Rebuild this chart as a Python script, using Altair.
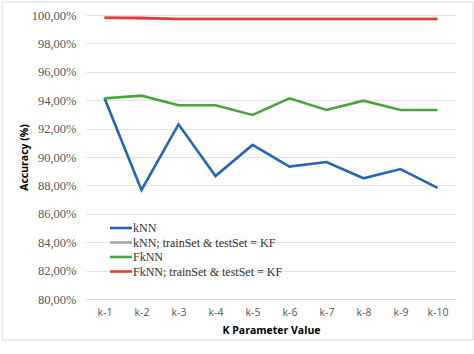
import altair as alt
import pandas as pd

categories = ["k-1", "k-2", "k-3", "k-4", "k-5", "k-6", "k-7", "k-8", "k-9", "k-10"]
series_names = ["kNN", "kNN; trainSet & testSet = KF", "FkNN", "FkNN; trainSet & testSet = KF"]
knn = [94.13, 87.68, 92.30, 88.66, 90.85, 89.32, 89.65, 88.50, 89.15, 87.82]
knn_kf = [99.80, 99.80, 99.72, 99.72, 99.72, 99.72, 99.72, 99.72, 99.72, 99.72]
fknn = [94.13, 94.32, 93.64, 93.64, 92.96, 94.13, 93.31, 93.97, 93.31, 93.31]
fknn_kf = [99.81, 99.78, 99.72, 99.72, 99.72, 99.72, 99.72, 99.72, 99.72, 99.72]
colors = ["#2566b8", "#a5a5a5", "#4aa53a", "#e83a3c"]
y_ticks = [80, 82, 84, 86, 88, 90, 92, 94, 96, 98, 100]

rows = []
for order, (name, vals) in enumerate(zip(series_names, [knn, knn_kf, fknn, fknn_kf])):
    for c, v in zip(categories, vals):
        rows.append({"k": c, "acc": v, "series": name, "ord": order})
df = pd.DataFrame(rows)
legend_df = pd.DataFrame({"series": series_names})

color_scale = alt.Scale(domain=series_names, range=colors)

frame = alt.Chart(pd.DataFrame({"a": [0]})).mark_rect(
    fill=None, filled=False, stroke="#d9d9d9", strokeWidth=1, clip=False
).encode(
    x=alt.value(-84), x2=alt.value(387), y=alt.value(-13), y2=alt.value(325)
)

lines = alt.Chart(df).mark_line(strokeWidth=2.6, clip=False).encode(
    x=alt.X("k:N", sort=categories,
            scale=alt.Scale(type="point", padding=0.5),
            axis=alt.Axis(title="K Parameter Value", labelAngle=0, grid=False,
                          domain=True, domainColor="#d9d9d9", ticks=False,
                          labelFont="Open Sans", labelFontSize=10.5, labelColor="#595959",
                          labelPadding=8, titleFont="Open Sans", titleFontSize=10.5,
                          titleFontWeight="bold", titleColor="#000000", titlePadding=8)),
    y=alt.Y("acc:Q", scale=alt.Scale(domain=[80, 100], nice=False, zero=False),
            axis=alt.Axis(title="Accuracy (%)", values=y_ticks, grid=True, gridColor="#e3e3e3",
                          domain=False, ticks=False,
                          labelExpr="replace(format(datum.value, '.2f'), '.', ',') + '%'",
                          labelFont="Liberation Serif", labelFontSize=12.5, labelColor="#595959",
                          labelPadding=10, titleFont="Open Sans", titleFontSize=10.5,
                          titleFontWeight="bold", titleColor="#000000", titlePadding=2)),
    color=alt.Color("series:N", scale=color_scale, legend=None),
    order=alt.Order("ord:Q"),
    detail="series:N",
)

leg_y = alt.Y("series:N", sort=series_names,
              scale=alt.Scale(type="point", range=[213, 256.5], padding=0), axis=None)

legend_lines = alt.Chart(legend_df).mark_rule(strokeWidth=2.6, clip=False).encode(
    x=alt.value(24), x2=alt.value(46), y=leg_y,
    color=alt.Color("series:N", scale=color_scale, legend=None),
)

legend_text = alt.Chart(legend_df).mark_text(
    align="left", baseline="middle", font="Liberation Serif", fontSize=12,
    color="#333333", clip=False
).encode(
    x=alt.value(47), y=leg_y, text="series:N",
)

legend = alt.layer(legend_lines, legend_text)

chart = alt.layer(lines, frame, legend).resolve_scale(y="independent").properties(
    width=370, height=284,
    padding={"left": 86, "top": 15, "right": 18, "bottom": 55},
    autosize=alt.AutoSizeParams(type="none"),
    background="white",
).configure_view(stroke=None)

chart.save("out.html", embed_options={"renderer": "svg", "actions": False})
